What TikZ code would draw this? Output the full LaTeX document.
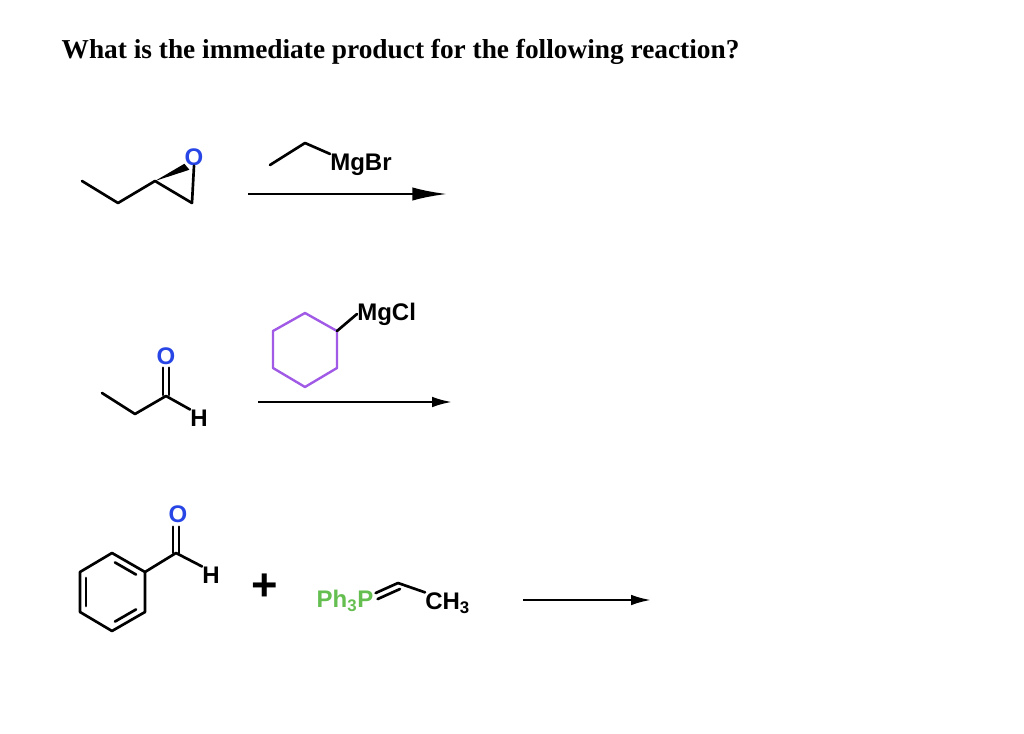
\documentclass[tikz,border=0pt]{standalone}
\usepackage{fontspec}
\setmainfont{Liberation Serif}
\newfontfamily\chem{Liberation Sans}
\usetikzlibrary{arrows.meta,calc}
\definecolor{oblue}{RGB}{40,70,230}
\definecolor{pgreen}{RGB}{100,190,80}
\definecolor{cpurple}{RGB}{160,90,230}
\begin{document}
\begin{tikzpicture}[x=0.75pt,y=-0.75pt,
  bond/.style={line width=2pt,line join=round,line cap=round},
  lab/.style={font=\chem\bfseries\fontsize{18}{18}\selectfont,inner sep=0pt},
  rxn/.style={line width=1.8pt,-{Latex[length=15pt,width=8pt]}}]
\useasboundingbox (0,0) rectangle (1024,734);
\node[anchor=west,font=\bfseries\fontsize{20.5}{20.5}\selectfont] (title) at (57,52) {What is the immediate product for the following reaction?};
% row 1 epoxide
\coordinate (a1) at (82,181); \coordinate (a2) at (118,203); \coordinate (a3) at (155,181);
\coordinate (a4) at (192,203);
\node[lab,text=oblue] (o1) at (194,157) {O};
\draw[bond] (a1)--(a2)--(a3)--(a4)--(o1.south);
\fill (a3) -- ($(o1.south west)+(0,-2)$) -- ($(o1.south west)+(5,4)$) -- cycle;
\coordinate (e1) at (270,165); \coordinate (e2) at (305,143);
\node[lab,anchor=west] (mgbr) at (330,165) {MgBr};
\draw[bond] (e1)--(e2)--(mgbr.north west);
\coordinate (r1s) at (248,194); \coordinate (r1e) at (447,194);
\draw[rxn,-{Latex[length=26pt,width=10pt]}] (r1s)--(r1e);
% row 2 aldehyde
\coordinate (b1) at (102,393); \coordinate (b2) at (135,414); \coordinate (b3) at (166,396);
\node[lab] (h2) at (199,418) {H};
\node[lab,text=oblue] (o2) at (166,356) {O};
\draw[bond] (b1)--(b2)--(b3)--(h2.north west);
\draw[bond] ($(b3)+(-3,-1)$)--($(o2.south)+(-3,3)$);
\draw[bond] ($(b3)+(3,-1)$)--($(o2.south)+(3,3)$);
% cyclohexyl
\draw[line width=1.8pt,cpurple,line join=round] (305,313)--(337,331)--(337,368)--(305,387)--(273,368)--(273,331)--cycle;
\node[lab,anchor=west] (mgcl) at (357,314) {MgCl};
\draw[bond] (337,331)--(mgcl.west);
\coordinate (r2s) at (258,402); \coordinate (r2e) at (452,402);
\draw[rxn] (r2s)--(r2e);
% row 3 benzaldehyde
\coordinate (p1) at (112,553); \coordinate (p2) at (145,572); \coordinate (p3) at (145,612);
\coordinate (p4) at (112,631); \coordinate (p5) at (80,612); \coordinate (p6) at (80,572);
\draw[bond] (p1)--(p2)--(p3)--(p4)--(p5)--(p6)--cycle;
\draw[bond] (86,578)--(86,606);
\draw[bond] ($(p1)!0.18!(p2)+(-3,6)$)--($(p1)!0.82!(p2)+(-3,6)$);
\draw[bond] ($(p3)!0.18!(p4)+(-3,-6)$)--($(p3)!0.82!(p4)+(-3,-6)$);
\coordinate (c3) at (176,553);
\node[lab,text=oblue] (o3) at (178,514) {O};
\node[lab] (h3) at (211,575) {H};
\draw[bond] (p2)--(c3)--(h3.north west);
\draw[bond] ($(c3)+(-3,0)$)--($(o3.south)+(-5,4)$);
\draw[bond] ($(c3)+(3,0)$)--($(o3.south)+(1,4)$);
\node[font=\chem\bfseries\fontsize{34}{34}\selectfont,inner sep=0pt] (plus) at (265,587) {+};
\node[lab,text=pgreen] (ph3p) at (345,601) {Ph\textsubscript{3}P};
\coordinate (y1) at (398,583);
\node[lab,anchor=west] (ch3) at (425,603) {CH\textsubscript{3}};
\draw[bond] ($(ph3p.north east)+(2,3)$)--(y1)--(ch3.north west);
\draw[bond] ($(ph3p.north east)+(4,9)$)--($(y1)+(2,6)$);
\coordinate (r3s) at (523,600); \coordinate (r3e) at (651,600);
\draw[rxn] (r3s)--(r3e);
\end{tikzpicture}
\end{document}
